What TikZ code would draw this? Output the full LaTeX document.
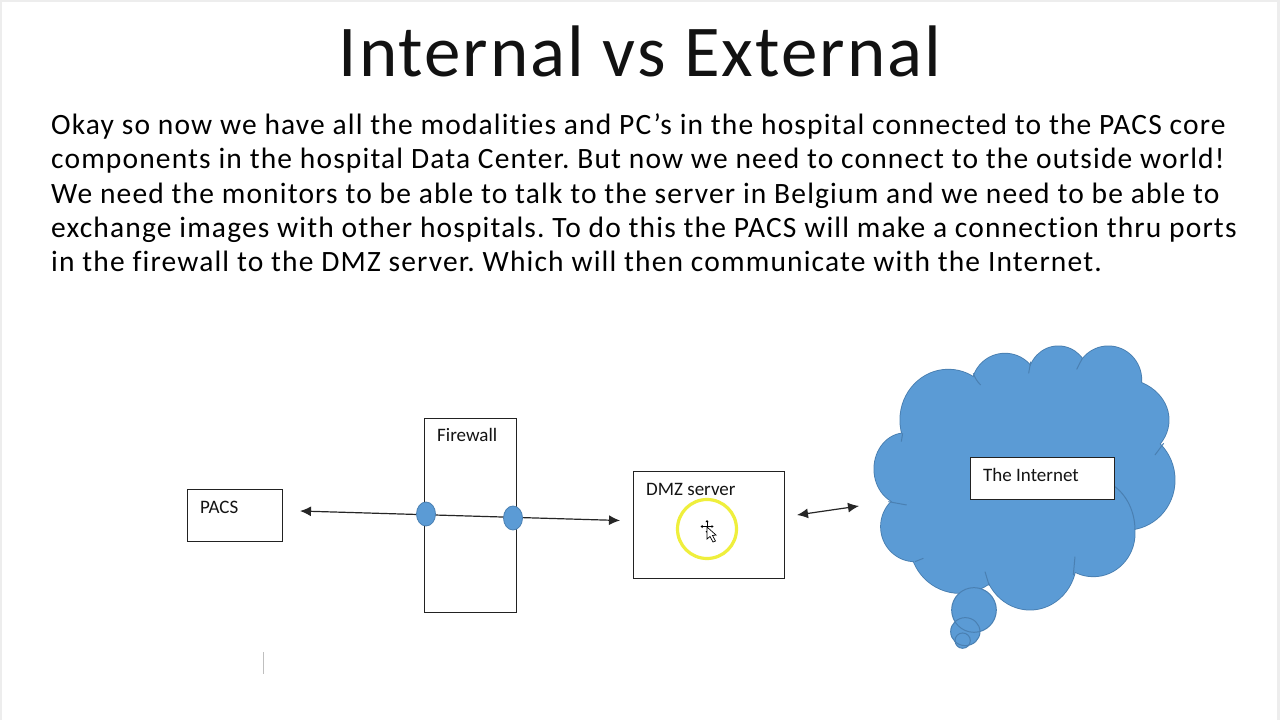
\documentclass[tikz,border=0pt]{standalone}
\usepackage{fontspec}
\setmainfont{Carlito}
\newfontfamily\bodyfont[LetterSpace=3.9,Ligatures=NoCommon]{Carlito}
\newfontfamily\titlefont[LetterSpace=2.7,Ligatures=NoCommon]{Carlito}
\usetikzlibrary{shapes.geometric,arrows.meta}
\definecolor{cloudblue}{HTML}{5B9BD5}
\definecolor{cloudline}{HTML}{4A80B2}
\definecolor{inkline}{HTML}{222222}
\definecolor{ringyellow}{HTML}{EFEF3C}
\definecolor{slideedge}{HTML}{EDEDED}
\tikzset{
  bodyline/.style={anchor=base west,inner sep=0pt,font=\bodyfont\fontsize{29.5}{29.5}\selectfont,text=black},
  titletext/.style={anchor=base,inner sep=0pt,font=\titlefont\fontsize{73}{73}\selectfont,text=black!93},
  boxlabel/.style={anchor=base west,inner sep=0pt,font=\fontsize{19}{19}\selectfont,text=black!92},
  whitebox/.style={draw=inkline,line width=1.3pt,fill=white,inner sep=0pt,anchor=north west},
  port/.style={ellipse,draw=cloudline,line width=0.8pt,fill=cloudblue,minimum width=19pt,minimum height=24pt,inner sep=0pt},
  link/.style={draw=black!85,line width=1.2pt,{Latex[length=11pt,width=10pt]}-{Latex[length=11pt,width=10pt]}},
  lobeline/.style={draw=cloudline,line width=1pt},
}
\begin{document}
\begin{tikzpicture}[x=1pt,y=-1pt]
\frenchspacing
\useasboundingbox (0,0) rectangle (1280,720);
\fill[white] (0,0) rectangle (1280,720);
\fill[slideedge] (0,0) rectangle (1280,2);
\fill[slideedge] (0,0) rectangle (2,720);
\fill[slideedge] (1277,0) rectangle (1280,720);
\node[titletext] (title) at (640,76) {Internal vs External};
\node[bodyline] (l1) at (51,134.3) {Okay so now we have all the modalities and PC’s in the hospital connected to the PACS core};
\node[bodyline] (l2) at (51,168.3) {components in the hospital Data Center. But now we need to connect to the outside world!};
\node[bodyline] (l3) at (51,203.3) {We need the monitors to be able to talk to the server in Belgium and we need to be able to};
\node[bodyline] (l4) at (51,237.3) {exchange images with other hospitals. To do this the PACS will make a connection thru ports};
\node[bodyline] (l5) at (51,271.3) {in the firewall to the DMZ server. Which will then communicate with the Internet.};

% boxes
\node[whitebox,minimum width=95pt,minimum height=52pt] (pacs) at (187,489) {};
\node[boxlabel] (pacslabel) at (200,513) {PACS};
\node[whitebox,minimum width=92pt,minimum height=194pt] (fw) at (424,418) {};
\node[boxlabel] (fwlabel) at (437,441) {Firewall};
\node[whitebox,minimum width=151pt,minimum height=107pt] (dmz) at (633,471) {};
\node[boxlabel] (dmzlabel) at (646,495) {DMZ server};

% cursor highlight
\node[circle,draw=ringyellow,line width=3.2pt,minimum size=59pt,inner sep=0pt] (ring) at (707,529) {};
\draw[black,line width=0.8pt] (702,526.5) -- (712,526.5) (707,521.5) -- (707,531.5);
\fill[black] (700.5,526.5) -- (702.5,525) -- (702.5,528) -- cycle (713.5,526.5) -- (711.5,525) -- (711.5,528) -- cycle (707,520) -- (705.5,522) -- (708.5,522) -- cycle (707,533) -- (705.5,531) -- (708.5,531) -- cycle;
\draw[fill=white,draw=black,line width=0.7pt] (707,527) -- (707,539) -- (710,536.5) -- (713,542) -- (715.5,541) -- (712.5,535.5) -- (716,535) -- cycle;

% links
\coordinate (la) at (300,511);
\coordinate (lb) at (620,520.5);
\draw[link] (la) -- (lb);
\node[port] (p1) at (426,514) {};
\node[port] (p2) at (513,518) {};
\coordinate (ra) at (797,515);
\coordinate (rb) at (859,506);
\draw[link] (ra) -- (rb);

% cloud
\begin{scope}[shift={(860,330)},x=0.3333pt,y=-0.3333pt]
\def\lobes{(265,270)/145/152,(435,170)/100/100,(595,140)/90/92,(745,150)/100/102,(780,270)/147/125,(800,450)/145/150,(700,610)/125/130,(510,690)/140/150,(300,640)/150/150,(165,590)/103/105,(135,417)/93/108}
\foreach \c/\a/\b in \lobes {\draw[lobeline,fill=cloudblue] \c ellipse [x radius=\a,y radius=\b];}
\foreach \c/\a/\b in \lobes {\fill[cloudblue] \c ellipse [x radius=\a-1.5,y radius=\b-1.5];}
\fill[cloudblue] (265,270) -- (435,170) -- (745,150) -- (800,450) -- (510,690) -- (165,590) -- cycle;
\draw[lobeline] (340,130) .. controls (345,145) and (352,155) .. (362,165);
\draw[lobeline] (512,95) -- (506,130);
\draw[lobeline] (667,85) -- (650,118);
\draw[lobeline] (911,340) -- (885,375);
\draw[lobeline] (762,468) .. controls (800,495) and (825,545) .. (825,600);
\draw[lobeline] (645,680) -- (640,735);
\draw[lobeline] (375,725) -- (388,768);
\draw[lobeline] (165,695) -- (190,685);
\draw[lobeline] (85,515) -- (140,525);
\draw[lobeline] (128,310) -- (124,335);
\fill[cloudblue] (342,840) circle [radius=67];
\fill[cloudblue] (316,905) ellipse [x radius=44,y radius=42];
\fill[cloudblue] (308,932) circle [radius=23];
\draw[lobeline] (342,840) circle [radius=67];
\draw[lobeline] (316,905) ellipse [x radius=44,y radius=42];
\draw[lobeline] (308,932) circle [radius=23];
\end{scope}
\node[whitebox,minimum width=144pt,minimum height=42pt] (net) at (970,457) {};
\node[boxlabel] (netlabel) at (983,481) {The Internet};

% stray mark
\draw[black!25,line width=1pt] (263,652) -- (263,674);
\end{tikzpicture}
\end{document}
